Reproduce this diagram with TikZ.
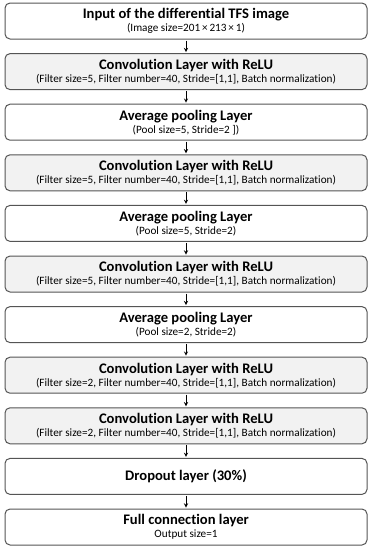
\documentclass[tikz,border=0pt]{standalone}
\usepackage{fontspec}
\setmainfont[Ligatures=NoCommon]{Carlito}
\newcommand{\ttl}[1]{{\fontsize{14.6}{16}\selectfont\bfseries #1}}
\newcommand{\sub}[1]{{\fontsize{11.2}{13}\selectfont #1}}
\definecolor{boxline}{HTML}{555555}
\definecolor{boxgray}{HTML}{F2F2F2}
\tikzset{
  layer/.style={draw=boxline, line width=1pt, rounded corners=5pt, fill=white,
    minimum width=362pt, minimum height=36pt, inner sep=0pt, align=center},
  graylayer/.style={layer, fill=boxgray},
  flow/.style={->, >=stealth, line width=0.9pt, shorten >=1pt, shorten <=1pt}
}
\begin{document}
\begin{tikzpicture}[x=1pt,y=1pt]
\useasboundingbox (0,0) rectangle (375,-550);
\node[layer] (in) at (186,-21) {\ttl{Input of the differential TFS image}\\[1pt]\sub{(Image size=201\,×\,213\,×\,1)}};
\node[graylayer] (c1) at (186,-71.6) {\ttl{Convolution Layer with ReLU}\\[1pt]\sub{(Filter size=5, Filter number=40, Stride=[1,1], Batch normalization)}};
\node[layer] (p1) at (186,-122.2) {\ttl{Average pooling Layer}\\[1pt]\sub{(Pool size=5, Stride=2 ])}};
\node[graylayer] (c2) at (186,-172.8) {\ttl{Convolution Layer with ReLU}\\[1pt]\sub{(Filter size=5, Filter number=40, Stride=[1,1], Batch normalization)}};
\node[layer] (p2) at (186,-223.4) {\ttl{Average pooling Layer}\\[1pt]\sub{(Pool size=5, Stride=2)}};
\node[graylayer] (c3) at (186,-274) {\ttl{Convolution Layer with ReLU}\\[1pt]\sub{(Filter size=5, Filter number=40, Stride=[1,1], Batch normalization)}};
\node[layer] (p3) at (186,-324.6) {\ttl{Average pooling Layer}\\[1pt]\sub{(Pool size=2, Stride=2)}};
\node[graylayer] (c4) at (186,-375.2) {\ttl{Convolution Layer with ReLU}\\[1pt]\sub{(Filter size=2, Filter number=40, Stride=[1,1], Batch normalization)}};
\node[graylayer] (c5) at (186,-425.8) {\ttl{Convolution Layer with ReLU}\\[1pt]\sub{(Filter size=2, Filter number=40, Stride=[1,1], Batch normalization)}};
\node[layer] (dr) at (186,-476.4) {\ttl{Dropout layer (30\%)}};
\node[layer] (fc) at (186,-527) {\ttl{Full connection layer}\\[1pt]\sub{Output size=1}};
\draw[flow] (in) -- (c1);
\draw[flow] (c1) -- (p1);
\draw[flow] (p1) -- (c2);
\draw[flow] (c2) -- (p2);
\draw[flow] (p2) -- (c3);
\draw[flow] (c3) -- (p3);
\draw[flow] (p3) -- (c4);
\draw[flow] (c4) -- (c5);
\draw[flow] (c5) -- (dr);
\draw[flow] (dr) -- (fc);
\end{tikzpicture}
\end{document}
